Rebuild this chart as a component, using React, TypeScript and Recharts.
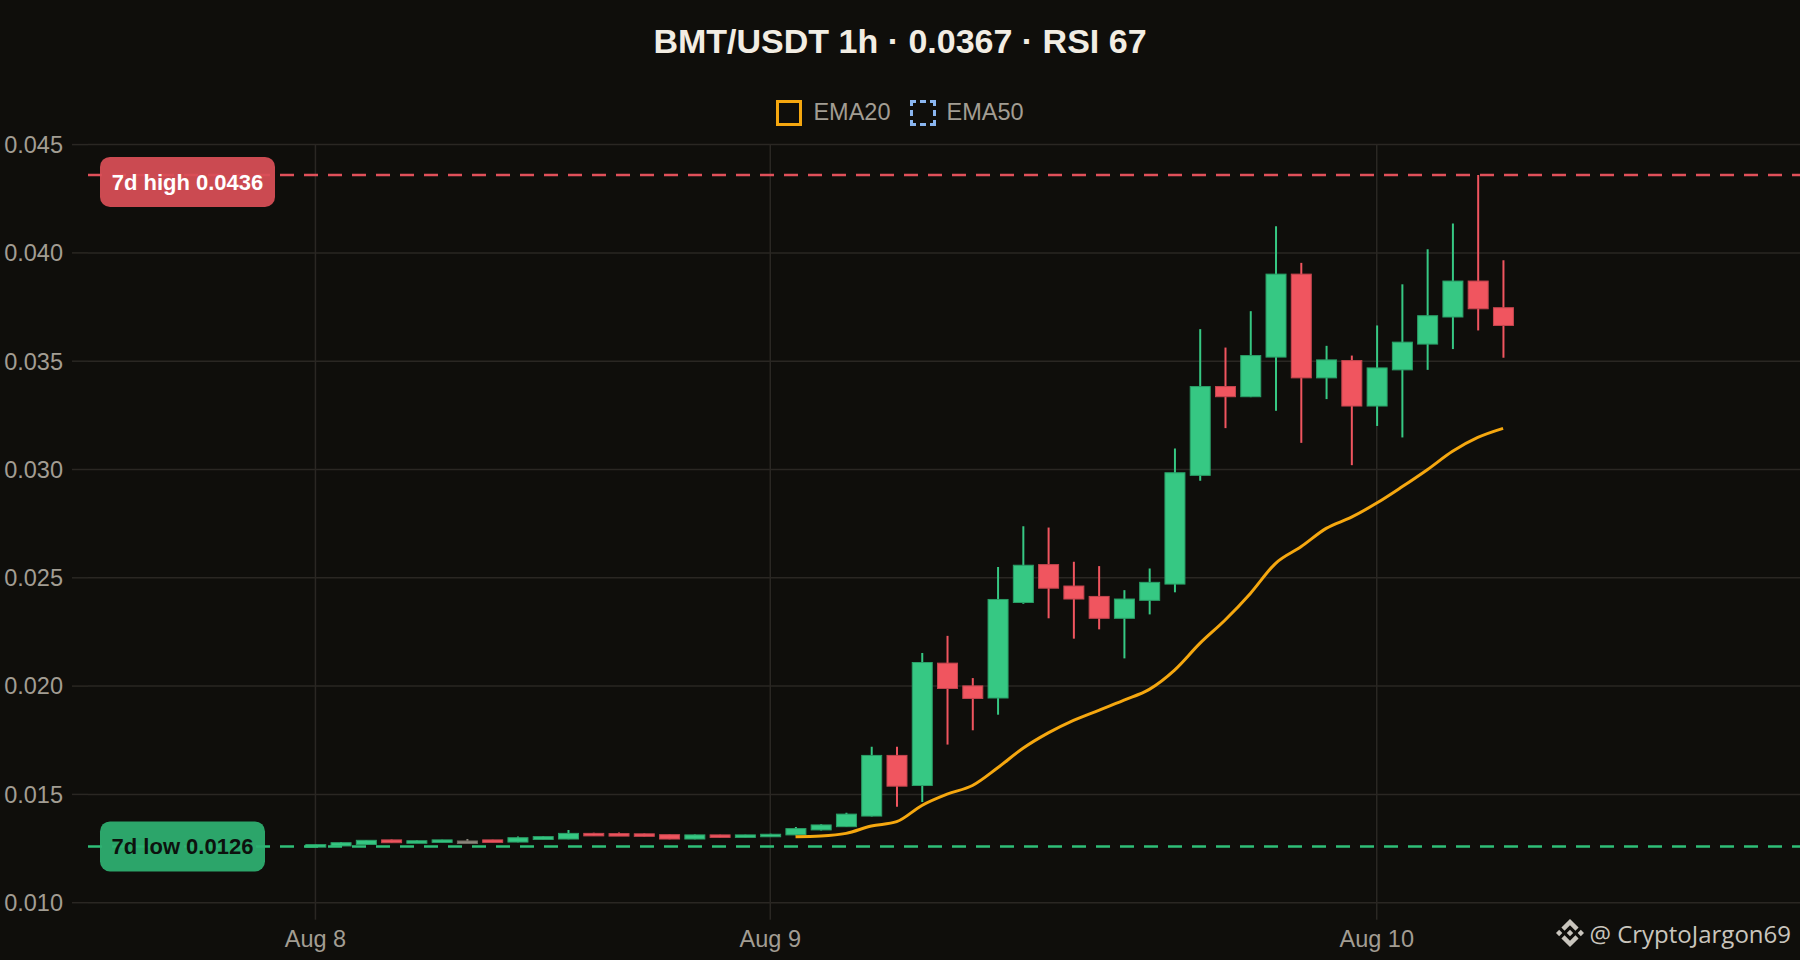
import { ComposedChart, Bar, Line, XAxis, YAxis, CartesianGrid, ReferenceLine } from 'recharts';

// BMT/USDT 1h candles, Aug 8 06:00 -> Aug 10 05:00
const opens = [
  0.0126, 0.01262, 0.01269, 0.0129, 0.01279, 0.0128, 0.01285, 0.0129, 0.0128, 0.01292,
  0.01294, 0.0132, 0.01319, 0.01318, 0.01314, 0.01294, 0.01313, 0.01302, 0.01306, 0.01313,
  0.01336, 0.01351, 0.014, 0.0168, 0.01541, 0.02106, 0.02001, 0.01945, 0.02386, 0.02561,
  0.02462, 0.02414, 0.02313, 0.02396, 0.02471, 0.02973, 0.03383, 0.03336, 0.03519, 0.03902,
  0.03423, 0.03503, 0.03293, 0.0346, 0.03579, 0.03704, 0.0387, 0.03747,
];
const highs = [
  0.0127, 0.0128, 0.0129, 0.01292, 0.01288, 0.01291, 0.01294, 0.01291, 0.01306, 0.01308,
  0.01336, 0.01323, 0.01324, 0.01319, 0.01315, 0.01315, 0.01314, 0.01314, 0.01318, 0.0135,
  0.01362, 0.01415, 0.0172, 0.0172, 0.02153, 0.02232, 0.02037, 0.0255, 0.02738, 0.02732,
  0.02574, 0.02554, 0.02443, 0.02543, 0.03097, 0.03648, 0.03563, 0.03731, 0.04123, 0.03954,
  0.03571, 0.03526, 0.03665, 0.03855, 0.04017, 0.04136, 0.0436, 0.03966,
];
const lows = [
  0.01258, 0.0126, 0.01267, 0.01276, 0.01278, 0.01279, 0.01281, 0.01279, 0.01279, 0.01291,
  0.01293, 0.01309, 0.01308, 0.01306, 0.01293, 0.01293, 0.01301, 0.01301, 0.01305, 0.01311,
  0.01333, 0.01349, 0.01398, 0.01443, 0.01465, 0.0173, 0.01796, 0.01868, 0.0238, 0.02313,
  0.02219, 0.02262, 0.02128, 0.02331, 0.02433, 0.02948, 0.03191, 0.03334, 0.03271, 0.03123,
  0.03325, 0.0302, 0.03201, 0.03148, 0.0346, 0.03556, 0.03642, 0.03516,
];
const closes = [
  0.01268, 0.01277, 0.01288, 0.01277, 0.01286, 0.0129, 0.01285, 0.0128, 0.013, 0.01305,
  0.0132, 0.0131, 0.01309, 0.01307, 0.01294, 0.01313, 0.01302, 0.01313, 0.01316, 0.01342,
  0.01359, 0.01409, 0.0168, 0.01538, 0.02109, 0.01989, 0.01943, 0.024, 0.02558, 0.02452,
  0.02402, 0.02313, 0.02402, 0.02479, 0.02985, 0.03383, 0.03336, 0.03526, 0.03902, 0.03423,
  0.03506, 0.03293, 0.03469, 0.03588, 0.0371, 0.0387, 0.03742, 0.03665,
];
// EMA20 only exists from candle 19 onward
const ema20 = [
  null, null, null, null, null, null, null, null, null, null,
  null, null, null, null, null, null, null, null, null, 0.01305,
  0.01308, 0.0132, 0.01354, 0.01374, 0.01449, 0.01501, 0.01541, 0.01623, 0.01713, 0.01784,
  0.01842, 0.01888, 0.01935, 0.01985, 0.02074, 0.02197, 0.02305, 0.02428, 0.02567, 0.02643,
  0.02728, 0.0278, 0.02845, 0.0292, 0.02999, 0.03084, 0.03148, 0.0319,
];

const xTickIdx = [0, 18, 42];
const xTickLabels = ['Aug 8', 'Aug 9', 'Aug 10'];
const yTicks = [0.01, 0.015, 0.02, 0.025, 0.03, 0.035, 0.04, 0.045];

const HIGH_7D = 0.0436;
const LOW_7D = 0.0126;

const BG = '#0f0e0b';
const GRID = '#2a2723';
const MUTED = '#a29d93';
const UP = '#36c883';
const DOWN = '#f0555f';
const FONT = '"Liberation Sans", Arial, sans-serif';

const data = opens.map((o, i) => ({
  i,
  open: o,
  high: highs[i],
  low: lows[i],
  close: closes[i],
  ema20: ema20[i],
}));

function Candle(props: any) {
  const { x, y, width, height, payload } = props;
  if (x == null || y == null) return null;
  const { open, close, high, low } = payload;
  const ppu = height / (high - low);
  const yOpen = y + (high - open) * ppu;
  const yClose = y + (high - close) * ppu;
  const up = close > open;
  const flat = close === open;
  const color = flat ? '#8c877d' : up ? UP : DOWN;
  const edge = flat ? '#6f6a61' : up ? '#2a9f67' : '#c4454e';
  const top = Math.min(yOpen, yClose);
  const h = Math.max(Math.abs(yClose - yOpen), 2.5);
  const cx = x + width / 2;
  return (
    <g>
      <line x1={cx} x2={cx} y1={y} y2={y + height} stroke={color} strokeWidth={2} />
      <rect x={x} y={top} width={width} height={h} fill={color} stroke={edge} strokeWidth={1} />
    </g>
  );
}

function BoxLabel({ viewBox, text, fill, color, width, dy }: any) {
  if (!viewBox) return null;
  const y = viewBox.y + dy;
  return (
    <g>
      <rect x={100} y={y - 25} width={width} height={50} rx={10} ry={10} fill={fill} fillOpacity={0.93} />
      <text
        x={100 + width / 2}
        y={y}
        dy="0.36em"
        textAnchor="middle"
        fill={color}
        style={{ fontFamily: FONT, fontWeight: 700, fontSize: 22 }}
      >
        {text}
      </text>
    </g>
  );
}

function LegendBox({ color, dashed }: { color: string; dashed?: boolean }) {
  return (
    <span
      style={{
        display: 'inline-block',
        width: 26,
        height: 26,
        boxSizing: 'border-box',
        border: `3px ${dashed ? 'dashed' : 'solid'} ${color}`,
      }}
    />
  );
}

export default function App() {
  return (
    <div
      style={{
        position: 'absolute',
        left: 0,
        top: 0,
        width: 1800,
        height: 960,
        background: BG,
        fontFamily: FONT,
        overflow: 'hidden',
      }}
    >
      <div
        style={{
          position: 'absolute',
          top: 21,
          left: 0,
          width: 1800,
          textAlign: 'center',
          fontSize: 34,
          lineHeight: '40px',
          fontWeight: 700,
          color: '#f2ede3',
        }}
      >
        BMT/USDT 1h · 0.0367 · RSI 67
      </div>

      <div
        style={{
          position: 'absolute',
          top: 99.5,
          left: 0,
          width: 1800,
          height: 26,
          display: 'flex',
          justifyContent: 'center',
          alignItems: 'center',
          fontSize: 23.5,
          color: MUTED,
        }}
      >
        <LegendBox color="#f5a70f" />
        <span style={{ marginLeft: 11, marginRight: 19 }}>EMA20</span>
        <LegendBox color="#8ab6f0" dashed />
        <span style={{ marginLeft: 11 }}>EMA50</span>
      </div>

      <ComposedChart
        width={1800}
        height={960}
        data={data}
        margin={{ top: 144.6, right: 0, bottom: 0, left: 0 }}
        style={{ position: 'absolute', left: 0, top: 0 }}
      >
        <CartesianGrid stroke={GRID} strokeWidth={1.5} syncWithTicks />
        <XAxis
          dataKey="i"
          type="number"
          domain={[-9, 58.75]}
          allowDataOverflow
          ticks={xTickIdx}
          tickFormatter={(v: number) => xTickLabels[xTickIdx.indexOf(v)] ?? ''}
          height={57.3}
          axisLine={false}
          tickLine={{ stroke: GRID, strokeWidth: 1.5 }}
          tickSize={17}
          tickMargin={11}
          tick={{ fill: MUTED, fontSize: 23.5, fontFamily: FONT }}
        />
        <YAxis
          type="number"
          domain={[0.01, 0.045]}
          ticks={yTicks}
          allowDataOverflow
          tickFormatter={(v: number) => v.toFixed(3)}
          width={88}
          axisLine={false}
          tickLine={{ stroke: GRID, strokeWidth: 1.5 }}
          tickSize={16}
          tickMargin={9}
          tick={{ fill: MUTED, fontSize: 23.5, fontFamily: FONT }}
        />
        <ReferenceLine
          y={HIGH_7D}
          stroke="#e0505a"
          strokeWidth={2.5}
          strokeDasharray="14 10"
          label={(p: any) => (
            <BoxLabel viewBox={p.viewBox} text={`7d high ${HIGH_7D}`} fill="#d94f57" color="#ffffff" width={175} dy={7} />
          )}
        />
        <ReferenceLine
          y={LOW_7D}
          stroke="#2fbf78"
          strokeWidth={2.5}
          strokeDasharray="14 10"
          label={(p: any) => (
            <BoxLabel viewBox={p.viewBox} text={`7d low ${LOW_7D}`} fill="#2eb072" color="#0d120e" width={165} dy={0} />
          )}
        />
        <Bar
          dataKey={(d: any) => [d.low, d.high]}
          barSize={20}
          shape={<Candle />}
          isAnimationActive={false}
        />
        <Line
          type="monotone"
          dataKey="ema20"
          stroke="#f5a70f"
          strokeWidth={3}
          dot={false}
          activeDot={false}
          isAnimationActive={false}
        />
      </ComposedChart>

      <div
        style={{
          position: 'absolute',
          right: 9,
          top: 918,
          height: 30,
          display: 'flex',
          alignItems: 'center',
          color: '#c9c5bd',
          fontFamily: '"Open Sans", "Noto Sans", sans-serif',
          fontSize: 24,
        }}
      >
        <svg width={28} height={28} viewBox="0 0 126.61 126.61" style={{ marginRight: 5 }}>
          <g fill="#c9c5bd">
            <path d="M38.73 53.2 L63.3 28.63 L87.88 53.21 L102.18 38.91 L63.3 0 L24.43 38.88 Z" />
            <path d="M0 63.31 L14.3 49.01 L28.6 63.31 L14.3 77.61 Z" />
            <path d="M38.73 73.41 L63.3 97.98 L87.88 73.4 L102.18 87.7 L63.3 126.61 L24.43 87.73 Z" />
            <path d="M98 63.31 L112.3 49.01 L126.6 63.31 L112.3 77.61 Z" />
            <path d="M77.83 63.3 L63.3 48.76 L48.77 63.29 L63.3 77.83 Z" />
          </g>
        </svg>
        <span>@ CryptoJargon69</span>
      </div>
    </div>
  );
}
